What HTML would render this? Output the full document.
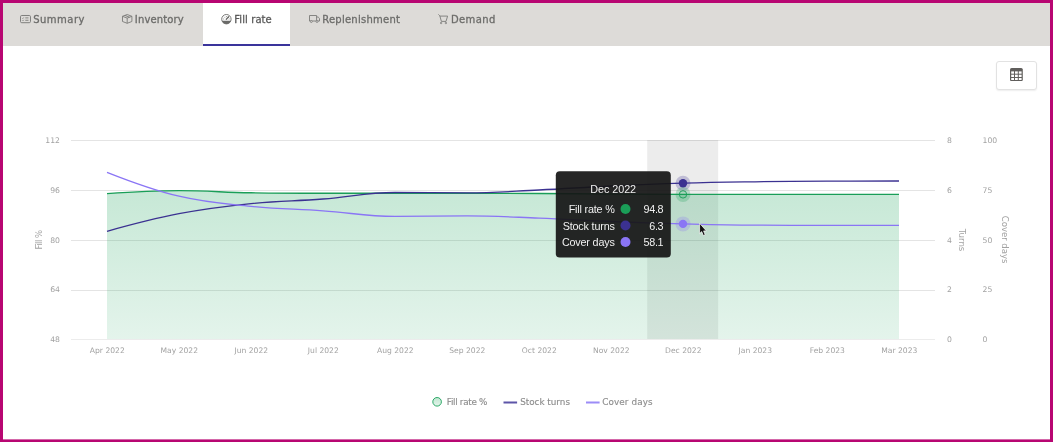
<!DOCTYPE html>
<html><head><meta charset="utf-8"><title>Fill rate</title>
<style>
html,body{margin:0;padding:0;}
body{width:1053px;height:442px;overflow:hidden;background:#fff;font-family:"Liberation Sans",sans-serif;position:relative;}
.frame{position:absolute;left:0;top:0;width:1047px;height:436px;border:3px solid #b80672;border-bottom-width:3px;z-index:10;pointer-events:none;}
.tabs{position:absolute;left:3px;top:3px;width:1047px;height:43px;background:#dddbd8;}
.act{position:absolute;left:202.5px;top:3px;width:87.5px;height:41px;background:#fff;border-bottom:2px solid #3a349b;}
.ic{position:absolute;overflow:visible;}
.tl{position:absolute;top:12.5px;white-space:nowrap;line-height:13px;font-size:10px;font-family:"DejaVu Sans","Liberation Sans",sans-serif;color:#6c6c6a;-webkit-text-stroke:0.3px #6c6c6a;}
.tl.on{color:#5a5a5a;-webkit-text-stroke:0.3px #5a5a5a;}
.btn{position:absolute;left:996px;top:61px;width:39px;height:27px;border:1px solid #e2e2e2;border-radius:3px;background:#fff;box-shadow:0 1px 1.5px rgba(0,0,0,0.07);}
svg text{font-family:"Liberation Sans",sans-serif;}
svg .dj text{font-family:"DejaVu Sans","Liberation Sans",sans-serif;}
</style></head><body>
<div class="tabs"></div>
<div class="act"></div>
<svg class="ic" style="left:20px;top:14.8px" width="11" height="8.2" viewBox="0 0 11 8.2"><rect x="0.5" y="0.5" width="10" height="7.2" rx="1.2" fill="none" stroke="#7a7a78" stroke-width="0.95"/><path d="M5.3 2.9h3.2M5.3 5.3h3.2" stroke="#7a7a78" stroke-width="0.9"/><path d="M2.2 3l.6.6 1-1.2M2.2 5.4l.6.6 1-1.2" stroke="#7a7a78" stroke-width="0.7" fill="none"/></svg>
<span class="tl" style="left:33.2px;letter-spacing:0.48px">Summary</span>
<svg class="ic" style="left:122px;top:14px" width="10.4" height="9.8" viewBox="0 0 10.4 9.8"><path d="M5.2 0.5 L9.9 2.3 V7.5 L5.2 9.3 L0.5 7.5 V2.3 Z M0.5 2.3 L5.2 4.1 L9.9 2.3 M5.2 4.1 V9.3 M2.85 1.4 L7.55 3.2" fill="none" stroke="#7a7a78" stroke-width="0.9" stroke-linejoin="round"/></svg>
<span class="tl" style="left:134.8px;letter-spacing:0.15px">Inventory</span>
<svg class="ic" style="left:221px;top:13.8px" width="10.8" height="10.4" viewBox="0 0 10.8 10.4"><circle cx="5.4" cy="5.2" r="4.7" fill="none" stroke="#6a6a68" stroke-width="0.9"/><path d="M0.95 6.7 H9.85 A4.7 4.7 0 0 1 0.95 6.7Z" fill="#6a6a68"/><path d="M5.3 5.3 L7.6 2.8" stroke="#6a6a68" stroke-width="1.3" stroke-linecap="round"/><path d="M2.2 4.9l.9.3M3.3 2.9l.6.7M5.4 2v.9M8.6 4.9l-.9.3" stroke="#6a6a68" stroke-width=".7"/></svg>
<span class="tl on" style="left:234.2px;letter-spacing:0.09px">Fill rate</span>
<svg class="ic" style="left:308.8px;top:15px" width="11" height="8" viewBox="0 0 11 8"><path d="M0.5 0.5 H7.6 V6 H0.5 Z M7.6 2 H8.9 C9.9 2.4 10.5 3.2 10.5 4 V6 H7.6" fill="none" stroke="#7a7a78" stroke-width="0.9" stroke-linejoin="round"/><circle cx="2.3" cy="6.5" r="1" fill="#dddbd8" stroke="#7a7a78" stroke-width="0.8"/><circle cx="8" cy="6.5" r="1" fill="#dddbd8" stroke="#7a7a78" stroke-width="0.8"/></svg>
<span class="tl" style="left:322.2px;letter-spacing:0.25px">Replenishment</span>
<svg class="ic" style="left:437.5px;top:14px" width="10" height="10" viewBox="0 0 10 10"><path d="M0.4 0.4 L1.8 1.8 L3.4 7.4 H8 L9.6 2.1 H1.9" fill="none" stroke="#7a7a78" stroke-width="0.9" stroke-linejoin="round"/><circle cx="3.1" cy="9" r="0.75" fill="none" stroke="#7a7a78" stroke-width=".8"/><circle cx="7.9" cy="9" r="0.75" fill="none" stroke="#7a7a78" stroke-width=".8"/></svg>
<span class="tl" style="left:450.9px;letter-spacing:0.40px">Demand</span>
<div class="btn"><svg style="position:absolute;left:13px;top:6.3px" width="13" height="13.2" viewBox="0 0 13 13.2"><rect x="0" y="0" width="12.8" height="13.2" rx="1.6" fill="#605e5c"/><g fill="#fff"><rect x="1.2" y="3.4" width="2.8" height="2.3"/><rect x="5" y="3.4" width="2.8" height="2.3"/><rect x="8.8" y="3.4" width="2.8" height="2.3"/><rect x="1.2" y="6.7" width="2.8" height="2.3"/><rect x="5" y="6.7" width="2.8" height="2.3"/><rect x="8.8" y="6.7" width="2.8" height="2.3"/><rect x="1.2" y="10" width="2.8" height="2"/><rect x="5" y="10" width="2.8" height="2"/><rect x="8.8" y="10" width="2.8" height="2"/></g></svg></div>
<svg style="position:absolute;left:0;top:0" width="1053" height="442" viewBox="0 0 1053 442">
<defs><linearGradient id="ga" x1="0" y1="0" x2="0" y2="1"><stop offset="0" stop-color="#1da35b" stop-opacity="0.25"/><stop offset="1" stop-color="#1da35b" stop-opacity="0.12"/></linearGradient></defs>
<rect x="71" y="140" width="864" height="1" fill="#e4e4e4"/><rect x="71" y="190" width="864" height="1" fill="#e4e4e4"/><rect x="71" y="240" width="864" height="1" fill="#e4e4e4"/><rect x="71" y="290" width="864" height="1" fill="#e4e4e4"/><rect x="71" y="339" width="864" height="1" fill="#ececec"/>
<rect x="647.2" y="140" width="71" height="199" fill="#000" fill-opacity="0.075"/>
<path d="M 107.0 193.60 C 107.00 193.60 150.20 190.60 179.0 190.60 C 207.80 190.60 222.20 192.30 251.0 192.80 C 279.80 193.30 294.20 193.30 323.0 193.30 C 351.80 193.30 366.20 193.20 395.0 193.20 C 423.80 193.20 438.20 193.24 467.0 193.30 C 495.80 193.36 510.20 193.36 539.0 193.50 C 567.80 193.64 582.20 193.82 611.0 194.00 C 639.80 194.18 654.20 194.40 683.0 194.40 C 711.80 194.40 726.20 194.40 755.0 194.40 C 783.80 194.40 798.20 194.40 827.0 194.40 C 855.80 194.40 899.00 194.40 899.0 194.40 L 899 339 L 107 339 Z" fill="url(#ga)"/>
<path d="M 107.0 193.60 C 107.00 193.60 150.20 190.60 179.0 190.60 C 207.80 190.60 222.20 192.30 251.0 192.80 C 279.80 193.30 294.20 193.30 323.0 193.30 C 351.80 193.30 366.20 193.20 395.0 193.20 C 423.80 193.20 438.20 193.24 467.0 193.30 C 495.80 193.36 510.20 193.36 539.0 193.50 C 567.80 193.64 582.20 193.82 611.0 194.00 C 639.80 194.18 654.20 194.40 683.0 194.40 C 711.80 194.40 726.20 194.40 755.0 194.40 C 783.80 194.40 798.20 194.40 827.0 194.40 C 855.80 194.40 899.00 194.40 899.0 194.40" fill="none" stroke="#1a9e58" stroke-width="1.4"/>
<path d="M 107.0 231.30 C 107.00 231.30 150.20 219.24 179.0 213.70 C 207.80 208.16 222.20 206.54 251.0 203.60 C 279.80 200.66 294.20 201.22 323.0 199.00 C 351.80 196.78 366.20 192.50 395.0 192.50 C 423.80 192.50 438.20 192.90 467.0 192.90 C 495.80 192.90 510.20 191.38 539.0 190.00 C 567.80 188.62 582.20 187.36 611.0 186.00 C 639.80 184.64 654.20 184.04 683.0 183.20 C 711.80 182.36 726.20 182.22 755.0 181.80 C 783.80 181.38 798.20 181.20 827.0 181.10 C 855.80 181.00 899.00 181.00 899.0 181.00" fill="none" stroke="#3b3191" stroke-width="1.3"/>
<path d="M 107.0 172.30 C 107.00 172.30 150.20 189.40 179.0 196.20 C 207.80 203.00 222.20 203.38 251.0 206.30 C 279.80 209.22 294.20 208.78 323.0 210.80 C 351.80 212.82 366.20 216.40 395.0 216.40 C 423.80 216.40 438.20 215.90 467.0 215.90 C 495.80 215.90 510.20 216.98 539.0 218.10 C 567.80 219.22 582.20 220.34 611.0 221.50 C 639.80 222.66 654.20 223.16 683.0 223.90 C 711.80 224.64 726.20 225.10 755.0 225.20 C 783.80 225.30 798.20 225.30 827.0 225.30 C 855.80 225.30 899.00 225.30 899.0 225.30" fill="none" stroke="#8a75f5" stroke-width="1.3"/>
<circle cx="683" cy="183.2" r="7.5" fill="#3b3191" fill-opacity="0.25"/><circle cx="683" cy="183.2" r="4.2" fill="#3b3191"/>
<circle cx="683" cy="194.4" r="7.5" fill="#1a9e58" fill-opacity="0.25"/><circle cx="683" cy="194.4" r="3.7" fill="#1a9e58" fill-opacity="0.08" stroke="#1a9e58" stroke-width="0.9"/>
<circle cx="683" cy="223.9" r="7.5" fill="#8a75f5" fill-opacity="0.25"/><circle cx="683" cy="223.9" r="4.2" fill="#8a75f5"/>
<g class="dj" font-size="7.7" fill="#a2a2a2"><text x="60" y="142.7" text-anchor="end">112</text><text x="947" y="143.1">8</text><text x="982.5" y="143.1">100</text><text x="60" y="192.7" text-anchor="end">96</text><text x="947" y="193.1">6</text><text x="982.5" y="193.1">75</text><text x="60" y="242.7" text-anchor="end">80</text><text x="947" y="243.1">4</text><text x="982.5" y="243.1">50</text><text x="60" y="291.7" text-anchor="end">64</text><text x="947" y="292.1">2</text><text x="982.5" y="292.1">25</text><text x="60" y="341.7" text-anchor="end">48</text><text x="947" y="342.1">0</text><text x="982.5" y="342.1">0</text><text x="107.3" y="353.2" text-anchor="middle" font-size="7.6">Apr 2022</text><text x="179.3" y="353.2" text-anchor="middle" font-size="7.6">May 2022</text><text x="251.3" y="353.2" text-anchor="middle" font-size="7.6">Jun 2022</text><text x="323.3" y="353.2" text-anchor="middle" font-size="7.6">Jul 2022</text><text x="395.3" y="353.2" text-anchor="middle" font-size="7.6">Aug 2022</text><text x="467.3" y="353.2" text-anchor="middle" font-size="7.6">Sep 2022</text><text x="539.3" y="353.2" text-anchor="middle" font-size="7.6">Oct 2022</text><text x="611.3" y="353.2" text-anchor="middle" font-size="7.6">Nov 2022</text><text x="683.3" y="353.2" text-anchor="middle" font-size="7.6">Dec 2022</text><text x="755.3" y="353.2" text-anchor="middle" font-size="7.6">Jan 2023</text><text x="827.3" y="353.2" text-anchor="middle" font-size="7.6">Feb 2023</text><text x="899.3" y="353.2" text-anchor="middle" font-size="7.6">Mar 2023</text>
<text transform="translate(42,240) rotate(-90)" text-anchor="middle" font-size="8.5" letter-spacing="-0.55">Fill %</text>
<text transform="translate(959.2,240) rotate(90)" text-anchor="middle" font-size="8.6">Turns</text>
<text transform="translate(1001.8,239.6) rotate(90)" text-anchor="middle" font-size="8.5">Cover days</text>
</g>
<g class="dj" font-size="8.8" fill="#8e8e8e" stroke="#8e8e8e" stroke-width="0.15">
<defs><linearGradient id="lg" x1="0" y1="0" x2="0" y2="1"><stop offset="0" stop-color="#bfe6d0"/><stop offset="1" stop-color="#e6f5ec"/></linearGradient></defs>
<circle cx="437.1" cy="401.8" r="4.3" fill="url(#lg)" stroke="#2aa866" stroke-width="1"/>
<text x="446.8" y="405.3" letter-spacing="-0.3">Fill rate %</text>
<rect x="503.5" y="401.5" width="13.6" height="2" fill="#5d55a8" stroke="none"/>
<text x="520.2" y="405.3" letter-spacing="0">Stock turns</text>
<rect x="586" y="401.5" width="13.6" height="2" fill="#9c8cf7" stroke="none"/>
<text x="602.3" y="405.3" letter-spacing="0.1">Cover days</text>
</g>
<g>
<rect x="555.8" y="171.3" width="115" height="86.2" rx="4" fill="#161616" fill-opacity="0.93"/>
<g font-size="10.8" fill="#f0f0f0">
<text x="613.2" y="193" text-anchor="middle" letter-spacing="-0.06">Dec 2022</text>
<g letter-spacing="-0.18"><text x="614.7" y="213.2" text-anchor="end">Fill rate %</text>
<text x="614.7" y="229.7" text-anchor="end">Stock turns</text>
<text x="614.7" y="246.2" text-anchor="end">Cover days</text></g>
<g letter-spacing="-0.3"><text x="663.3" y="213.2" text-anchor="end">94.8</text>
<text x="663.3" y="229.7" text-anchor="end">6.3</text>
<text x="663.3" y="246.2" text-anchor="end">58.1</text></g>
</g>
<circle cx="625.5" cy="209" r="5" fill="#1a9e58"/>
<circle cx="625.5" cy="225.5" r="5" fill="#3b3191"/>
<circle cx="625.5" cy="242" r="5" fill="#8a75f5"/>
</g>
<path d="M699.6 223.3 V233.6 L701.7 231.6 L703.3 235.5 L705.2 234.7 L703.6 230.9 H706.4 Z" fill="#111" stroke="#fff" stroke-width="0.7" stroke-linejoin="round"/>
<g fill="#b80672"><rect x="0" y="0" width="1053" height="3"/><rect x="0" y="0" width="3" height="442"/><rect x="1050" y="0" width="3" height="442"/><rect x="0" y="439.4" width="1053" height="2.6"/></g>
</svg>

</body></html>
